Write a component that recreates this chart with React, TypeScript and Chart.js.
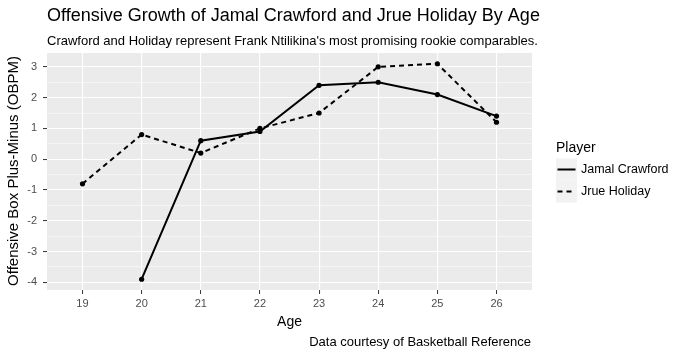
import React, { useEffect, useRef } from "react";
import { Chart, registerables } from "chart.js";

Chart.register(...registerables);

const ages = [19, 20, 21, 22, 23, 24, 25, 26];
const crawfordAges = [20, 21, 22, 23, 24, 25, 26];
const crawfordObpm = [-3.9, 0.6, 0.9, 2.4, 2.5, 2.1, 1.4];
const holidayAges = [19, 20, 21, 22, 23, 24, 25, 26];
const holidayObpm = [-0.8, 0.8, 0.2, 1.0, 1.5, 3.0, 3.1, 1.2];
const yTickValues = [-4, -3, -2, -1, 0, 1, 2, 3];
const playerNames = ["Jamal Crawford", "Jrue Holiday"];

const titleText = "Offensive Growth of Jamal Crawford and Jrue Holiday By Age";
const subtitleText = "Crawford and Holiday represent Frank Ntilikina's most promising rookie comparables.";
const yTitle = "Offensive Box Plus-Minus (OBPM)";
const xTitle = "Age";
const captionText = "Data courtesy of Basketball Reference";
const legendTitle = "Player";

const FONT = "'Liberation Sans', Arial, sans-serif";

const decorPlugin = {
  id: "decor",
  beforeDraw(chart: any) {
    const { ctx, chartArea } = chart;
    ctx.save();
    ctx.fillStyle = "#FFFFFF";
    ctx.fillRect(0, 0, chart.width, chart.height);
    ctx.fillStyle = "#EBEBEB";
    ctx.fillRect(chartArea.left, chartArea.top, chartArea.right - chartArea.left, chartArea.bottom - chartArea.top);
    ctx.restore();
  },
  afterDraw(chart: any) {
    const { ctx, chartArea } = chart;
    ctx.save();
    ctx.fillStyle = "#000000";
    ctx.textBaseline = "middle";
    // title
    ctx.textAlign = "left";
    ctx.font = `18px ${FONT}`;
    ctx.fillText(titleText, 47, 16.5);
    ctx.font = `13px ${FONT}`;
    ctx.fillText(subtitleText, 47, 41);
    // axis titles
    ctx.font = `14px ${FONT}`;
    ctx.textAlign = "center";
    ctx.fillText(xTitle, (chartArea.left + chartArea.right) / 2, 322);
    ctx.save();
    ctx.translate(13.5, 171);
    ctx.rotate(-Math.PI / 2);
    ctx.font = `15px ${FONT}`;
    ctx.fillText(yTitle, 0, 0);
    ctx.restore();
    // caption
    ctx.font = `13px ${FONT}`;
    ctx.textAlign = "right";
    ctx.fillText(captionText, chartArea.right - 1, 342);
    // legend
    ctx.textAlign = "left";
    ctx.font = `14px ${FONT}`;
    ctx.fillText(legendTitle, 556, 148);
    const keyX = 556;
    const keyTops = [158.5, 180.5];
    const dashes = [[], [5, 4]];
    for (let i = 0; i < playerNames.length; i++) {
      ctx.fillStyle = "#F2F2F2";
      ctx.fillRect(keyX, keyTops[i], 21, 22);
      ctx.strokeStyle = "#000000";
      ctx.lineWidth = 2;
      ctx.setLineDash(dashes[i]);
      ctx.beginPath();
      ctx.moveTo(keyX + 1.5, keyTops[i] + 11);
      ctx.lineTo(keyX + 19.5, keyTops[i] + 11);
      ctx.stroke();
      ctx.setLineDash([]);
      ctx.fillStyle = "#000000";
      ctx.font = `12.5px ${FONT}`;
      ctx.fillText(playerNames[i], 581, keyTops[i] + 11);
    }
    ctx.restore();
  },
};

export default function App() {
  const ref = useRef<HTMLCanvasElement>(null);
  useEffect(() => {
    if (!ref.current) return;
    const chart = new Chart(ref.current, {
      type: "line",
      data: {
        datasets: [
          {
            label: playerNames[0],
            data: crawfordAges.map((a, i) => ({ x: a, y: crawfordObpm[i] })),
            borderColor: "#000000",
            backgroundColor: "#000000",
            borderWidth: 2,
            pointRadius: 2.6,
            pointBorderWidth: 0,
            tension: 0,
          },
          {
            label: playerNames[1],
            data: holidayAges.map((a, i) => ({ x: a, y: holidayObpm[i] })),
            borderColor: "#000000",
            backgroundColor: "#000000",
            borderWidth: 2,
            borderDash: [5, 4],
            pointRadius: 2.6,
            pointBorderWidth: 0,
            tension: 0,
          },
        ],
      },
      options: {
        animation: false,
        responsive: false,
        maintainAspectRatio: false,
        layout: { padding: { left: 10, top: 53, right: 151, bottom: 27 } },
        plugins: { legend: { display: false }, title: { display: false }, tooltip: { enabled: false } },
        scales: {
          x: {
            type: "linear",
            min: 18.4,
            max: 26.6,
            afterBuildTicks: (s: any) => {
              s.ticks = ages.map((v) => ({ value: v }));
            },
            afterFit: (s: any) => {
              s.height = 40;
            },
            border: { display: false },
            grid: {
              color: "#FFFFFF",
              lineWidth: 1.1,
              tickColor: "#333333",
              tickWidth: 1,
              tickLength: 4,
            },
            ticks: {
              color: "#4D4D4D",
              font: { family: FONT, size: 11 },
              padding: 3,
              maxRotation: 0,
              autoSkip: false,
              callback: (v: any) => String(v),
            },
          },
          y: {
            type: "linear",
            min: -4.25,
            max: 3.45,
            afterBuildTicks: (s: any) => {
              const t: any[] = [];
              for (let i = 0; i < yTickValues.length; i++) {
                t.push({ value: yTickValues[i] });
                if (i < yTickValues.length - 1) t.push({ value: yTickValues[i] + 0.5 });
              }
              s.ticks = t;
            },
            afterFit: (s: any) => {
              s.width = 37;
            },
            border: { display: false },
            grid: {
              color: "#FFFFFF",
              lineWidth: (c: any) => (Number.isInteger(c.tick?.value) ? 1.1 : 0.5),
              tickColor: (c: any) => (Number.isInteger(c.tick?.value) ? "#333333" : "rgba(0,0,0,0)"),
              tickWidth: 1,
              tickLength: 4,
            },
            ticks: {
              color: "#4D4D4D",
              font: { family: FONT, size: 11 },
              padding: 6,
              autoSkip: false,
              callback: (v: any) => (Number.isInteger(v) ? String(v) : ""),
            },
          },
        },
      },
      plugins: [decorPlugin],
    } as any);
    return () => chart.destroy();
  }, []);
  return (
    <div style={{ position: "fixed", left: 0, top: 0, width: 683, height: 357 }}>
      <canvas ref={ref} width={683} height={357} style={{ width: 683, height: 357 }} />
    </div>
  );
}
